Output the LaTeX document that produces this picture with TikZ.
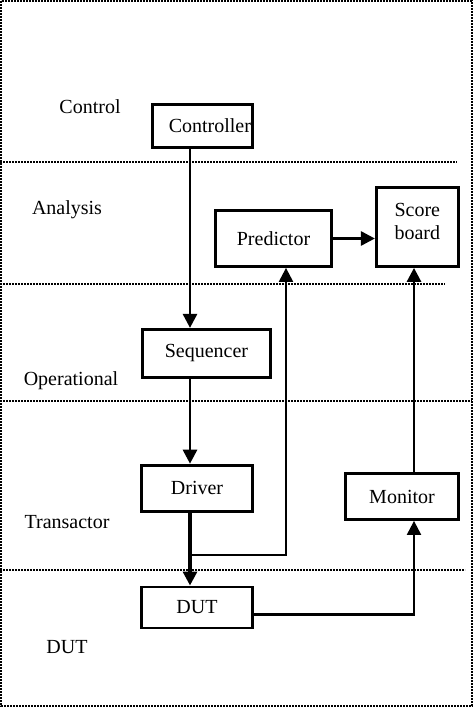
\documentclass[tikz,border=0pt]{standalone}
\usepackage{fontspec}
\setmainfont{Liberation Serif}
\usetikzlibrary{positioning}
\usetikzlibrary{arrows.meta}
\tikzset{
	block/.style={
		rectangle,
		draw,
		line width=2.8pt,
		align=center,
		inner sep=0pt,
		font=\fontsize{20}{23}\selectfont
	},
	layer/.style={
		anchor=base,
		inner sep=0pt,
		font=\fontsize{20}{23}\selectfont
	},
	sep/.style={line width=2pt, dash pattern=on 2pt off 1pt},
	flow/.style={line width=2.8pt, -{Triangle[length=14pt,width=14pt]}}
}

\begin{document}
\begin{tikzpicture}[x=1pt,y=-1pt]
		\useasboundingbox (0,0) rectangle (474,708);
		
		% frame and layer borders
		\draw[sep] (1,1) rectangle (472,706);
		\draw[sep] (0,162) -- (457,162);
		\draw[sep] (0,284) -- (445,284);
		\draw[sep] (0,401) -- (472,401);
		\draw[sep] (0,570) -- (465,570);
		
		\node[layer](Control) at (90,114){Control};
		\node[layer](Analysis) at (67,215){Analysis};
		\node[layer](Operational) at (71,385){Operational};
		\node[layer](Transactor) at (67,528){Transactor};
		\node[layer](DUTlayer) at (67,653){DUT};
		
		\draw node[block, minimum width=100pt, minimum height=43pt, text width=97pt, align=right](Controller) at (202.5,126){Controller};
		\draw node[block, minimum width=128pt, minimum height=48pt, below=179pt of Controller, xshift=4pt](Sequencer){Sequencer};
		\draw node[block, minimum width=111pt, minimum height=46pt, below=85pt of Sequencer, xshift=-9.5pt](Driver){Driver};
		\draw node[block, minimum width=111pt, minimum height=41pt, below=73pt of Driver](DUT){DUT};
		\draw node[block, minimum width=116pt, minimum height=56pt](Predictor) at (273.5,238.5){Predictor};
		\draw node[block, minimum width=82pt, minimum height=79pt, text depth=12pt, right=42pt of Predictor, yshift=11.5pt](Scoreboard){Score\\board};
		\draw node[block, minimum width=113pt, minimum height=46pt](Monitor) at (402,496.5){Monitor};
		
		\coordinate (spine) at (190,0);
		\coordinate (rise) at (414,0);
		\coordinate (tap) at (190,555);
		
		\draw [flow] (Controller.south -| spine) -- (Sequencer.north -| spine);
		\draw [flow] (Sequencer.south -| spine) -- (Driver.north -| spine);
		\draw [flow, line width=3.2pt] (Driver.south -| spine) -- (DUT.north -| spine);
		\draw [flow, line width=2.2pt] (tap) -| ([xshift=12.5pt]Predictor.south);
		\draw [flow] (Predictor.east) -- (Predictor.east -| Scoreboard.west);
		\draw [flow] (Monitor.north -| rise) -- (Scoreboard.south -| rise);
		\draw [flow, line width=2.2pt] ([yshift=-7pt]DUT.east) -| (Monitor.south -| rise);
	\end{tikzpicture}
\end{document}
